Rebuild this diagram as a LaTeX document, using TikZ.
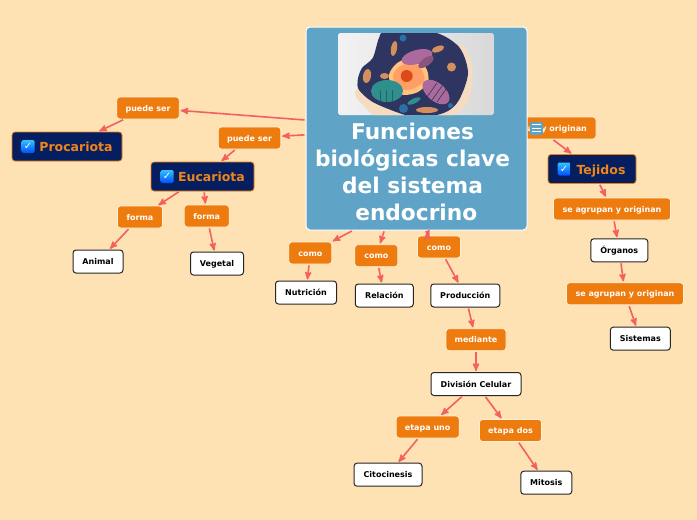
\documentclass[tikz,border=0pt]{standalone}
\usepackage{fontspec}
\setmainfont{DejaVu Sans}
\usetikzlibrary{arrows}
\definecolor{paper}{HTML}{FFE2B3}
\definecolor{sky}{HTML}{5FA4C7}
\definecolor{tangerine}{HTML}{EE7B0D}
\definecolor{amber}{HTML}{F0861A}
\definecolor{navy}{HTML}{041E5F}
\definecolor{coral}{HTML}{F45F5F}
\definecolor{capsule}{HTML}{D48F5E}
\definecolor{teal2}{HTML}{2F8F8C}
\definecolor{violet2}{HTML}{AC6A9C}
\definecolor{speck}{HTML}{2C6FA6}
\definecolor{cream}{HTML}{F5DCC0}
\definecolor{ink}{HTML}{2E3560}

\begin{document}
\begin{tikzpicture}[x=1pt,y=-1pt,->,>=stealth',shorten >=1pt,shorten <=1pt,line width=1.6pt,
  root node/.style={draw=white,line width=1pt,fill=sky,rounded corners=4pt,minimum width=221pt,minimum height=203pt,inner sep=0pt},
  title node/.style={text=white,font=\fontsize{21.7}{27}\selectfont\bfseries,align=center,inner sep=0pt},
  link node/.style={draw=paper!50!white,line width=.8pt,fill=tangerine,text=white,rounded corners=3pt,font=\fontsize{8}{10}\selectfont\bfseries,minimum height=22pt,inner sep=0pt,text height=7pt,text depth=1pt},
  main node/.style={draw=tangerine,line width=.8pt,fill=navy,text=amber,rounded corners=3pt,font=\fontsize{12.5}{15}\selectfont\bfseries,minimum height=29pt,inner sep=0pt,text height=11.5pt,text depth=1.2pt},
  leaf node/.style={draw=black!85,line width=1pt,fill=white,text=black,rounded corners=3pt,font=\fontsize{8}{10}\selectfont\bfseries,minimum height=23pt,inner sep=0pt,text height=7.4pt,text depth=1pt},
  check node/.style={top color=blue!30!cyan!80!white,bottom color=blue!70!cyan,text=white,rounded corners=1.5pt,minimum size=13pt,inner sep=0pt,font=\fontsize{10}{10}\selectfont\bfseries},
  menu node/.style={fill=sky,rounded corners=1.5pt,minimum size=13pt,inner sep=0pt},
  organelle/.style={draw=none,fill=capsule}]
  \useasboundingbox (0,0) rectangle (697,520);
  \fill[paper,shorten >=0pt,shorten <=0pt] (0,0) rectangle (697,520);

  \node[link node,minimum width=117pt] (sa0) at (537.5,128) {se agrupan y originan};

  \node[root node] (root) at (416.5,128.5) {};

  % cell picture
  \begin{scope}[-,shorten >=0pt,shorten <=0pt,line width=.4pt]
    \clip[rounded corners=2pt] (338,33) rectangle (494,115);
    \fill[left color=black!5,right color=black!15] (338,33) rectangle (494,115);
    \fill[cream] plot[smooth cycle] coordinates {(358,88) (366,108) (385,120) (440,120) (465,106) (472,85) (471,62) (460,44) (430,60)};
    \fill[ink] plot[smooth cycle] coordinates {(357.7,80) (362,68) (372.7,58) (379,38) (386,32) (433,32) (459,47) (468,73) (459,100) (446,112) (420,118) (399,113) (372.7,102) (359,90)};
    \fill[orange!30!paper] plot[smooth cycle] coordinates {(389,75) (396,64) (408,58) (419,60) (427,70) (428,82) (418,92) (404,95) (393,90)};
    \fill[orange!75!red!60!white] plot[smooth cycle] coordinates {(393,75) (399,67) (408,63) (417,65) (423,72) (424,81) (415,88) (404,90) (396,86)};
    \fill[red!50!orange!85!black!90!white] (406.7,76) circle[radius=6];
    \fill[violet2,rotate around={15:(417,57)}] (417,57) ellipse[x radius=16,y radius=7];
    \fill[violet2!80!black,rotate around={35:(426,62)}] (426,62) ellipse[x radius=9,y radius=4];
    \fill[violet2,rotate around={-40:(436,92)}] (436,92) ellipse[x radius=16,y radius=9];
    \draw[ink,line width=.6pt] (427,97) -- (437,83) (432,100) -- (442,86) (437,102) -- (446,89);
    \fill[teal2] (387,91) ellipse[x radius=16,y radius=11];
    \draw[teal2!70!black,line width=.6pt] (380,90) -- (380,101) (386,90) -- (386,102) (392,90) -- (392,101);
    \fill[teal2,rotate around={25:(414,101)}] (414,101) ellipse[x radius=7,y radius=2.5];
    \fill[organelle,rotate around={80:(367,76)}] (367,76) ellipse[x radius=7,y radius=4];
    \fill[organelle,rotate around={80:(394,48.5)}] (394,48.5) ellipse[x radius=7.5,y radius=3];
    \fill[organelle,rotate around={20:(438,49)}] (438,49) ellipse[x radius=6.5,y radius=3];
    \fill[organelle] (427,110) ellipse[x radius=11,y radius=3];
    \fill[organelle] (384.5,76) ellipse[x radius=4.5,y radius=3];
    \fill[organelle] (451.5,67) circle[radius=4.5];
    \fill[speck] (403,38) circle[radius=3.5] (403.5,108.5) circle[radius=4.5] (450.5,105.5) circle[radius=2.5];
  \end{scope}

  \node[title node] (title) at (412.5,171.5) {Funciones\\biológicas clave\\del sistema\\~endocrino};

  \node[menu node] (menu) at (536.3,128.3) {};
  \draw[-,white,line width=.9pt,shorten >=0pt,shorten <=0pt] ([xshift=3pt,yshift=-3.5pt]menu.west) -- ([xshift=-3pt,yshift=-3.5pt]menu.east);
  \draw[-,white,line width=.9pt,shorten >=0pt,shorten <=0pt] ([xshift=3pt]menu.west) -- ([xshift=-3pt]menu.east);
  \draw[-,white,line width=.9pt,shorten >=0pt,shorten <=0pt] ([xshift=3pt,yshift=3.5pt]menu.west) -- ([xshift=-3pt,yshift=3.5pt]menu.east);

  \node[link node,minimum width=62.5pt] (ps1) at (148,108) {puede ser};
  \node[link node,minimum width=62.5pt] (ps2) at (249.5,138) {puede ser};
  \node[main node,minimum width=110pt] (proc) at (67,146.5) {\hspace*{18pt}Procariota};
  \node[main node,minimum width=103pt] (euca) at (202.5,176.5) {\hspace*{18pt}Eucariota};
  \node[main node,minimum width=88pt] (teji) at (592,169) {\hspace*{18pt}Tejidos};
  \node[check node] (c1) at ([xshift=16.5pt]proc.west) {✓};
  \node[check node] (c2) at ([xshift=16.5pt]euca.west) {✓};
  \node[check node] (c3) at ([xshift=16.5pt]teji.west) {✓};

  \node[link node,minimum width=45pt] (fo1) at (140,217) {forma};
  \node[link node,minimum width=45pt] (fo2) at (206.7,216) {forma};
  \node[leaf node,minimum width=50pt] (anim) at (98,261.5) {Animal};
  \node[leaf node,minimum width=53pt] (vege) at (217,263.5) {Vegetal};

  \node[link node,minimum width=117pt] (sa1) at (612,209) {se agrupan y originan};
  \node[leaf node,minimum width=57pt] (orga) at (619.3,250.3) {Órganos};
  \node[link node,minimum width=117pt] (sa2) at (625,293.8) {se agrupan y originan};
  \node[leaf node,minimum width=60pt] (sist) at (640.3,338.7) {Sistemas};

  \node[link node,minimum width=43pt] (co1) at (310.3,253) {como};
  \node[link node,minimum width=43pt] (co2) at (376.3,255.7) {como};
  \node[link node,minimum width=43pt] (co3) at (439,247) {como};
  \node[leaf node,minimum width=61pt] (nutr) at (306,292.5) {Nutrición};
  \node[leaf node,minimum width=58pt] (rela) at (384.3,295.5) {Relación};
  \node[leaf node,minimum width=69pt] (prod) at (465.3,295.5) {Producción};
  \node[link node,minimum width=60pt] (medi) at (476,339.7) {mediante};
  \node[leaf node,minimum width=90pt] (divi) at (476,384) {División Celular};
  \node[link node,minimum width=63pt] (et1) at (427.7,427) {etapa uno};
  \node[link node,minimum width=62pt] (et2) at (510.5,430.5) {etapa dos};
  \node[leaf node,minimum width=68pt] (cito) at (388,474.7) {Citocinesis};
  \node[leaf node,minimum width=51pt] (mito) at (546.3,482.7) {Mitosis};

\path[draw=coral,every edge/.style={draw=coral}]
  (root) edge (ps1)
  (root) edge (ps2)
  (ps1) edge (proc)
  (ps2) edge (euca)
  (euca) edge (fo1)
  (euca) edge (fo2)
  (fo1) edge (anim)
  (fo2) edge (vege)
  (root.-122.5) edge (co1)
  (root) edge (co2)
  (root.-84) edge [shorten >=0pt,shorten <=0pt,line width=1pt] (co3.130)
  (co1) edge (nutr)
  (co2) edge (rela)
  (co3) edge (prod)
  (prod) edge (medi)
  (medi) edge (divi)
  (divi) edge (et1)
  (divi) edge (et2)
  (et1) edge (cito)
  (et2) edge (mito)
  (sa0) edge (teji)
  (teji) edge (sa1)
  (sa1) edge (orga)
  (orga) edge (sa2)
  (sa2) edge (sist)
;
\end{tikzpicture}
\end{document}
